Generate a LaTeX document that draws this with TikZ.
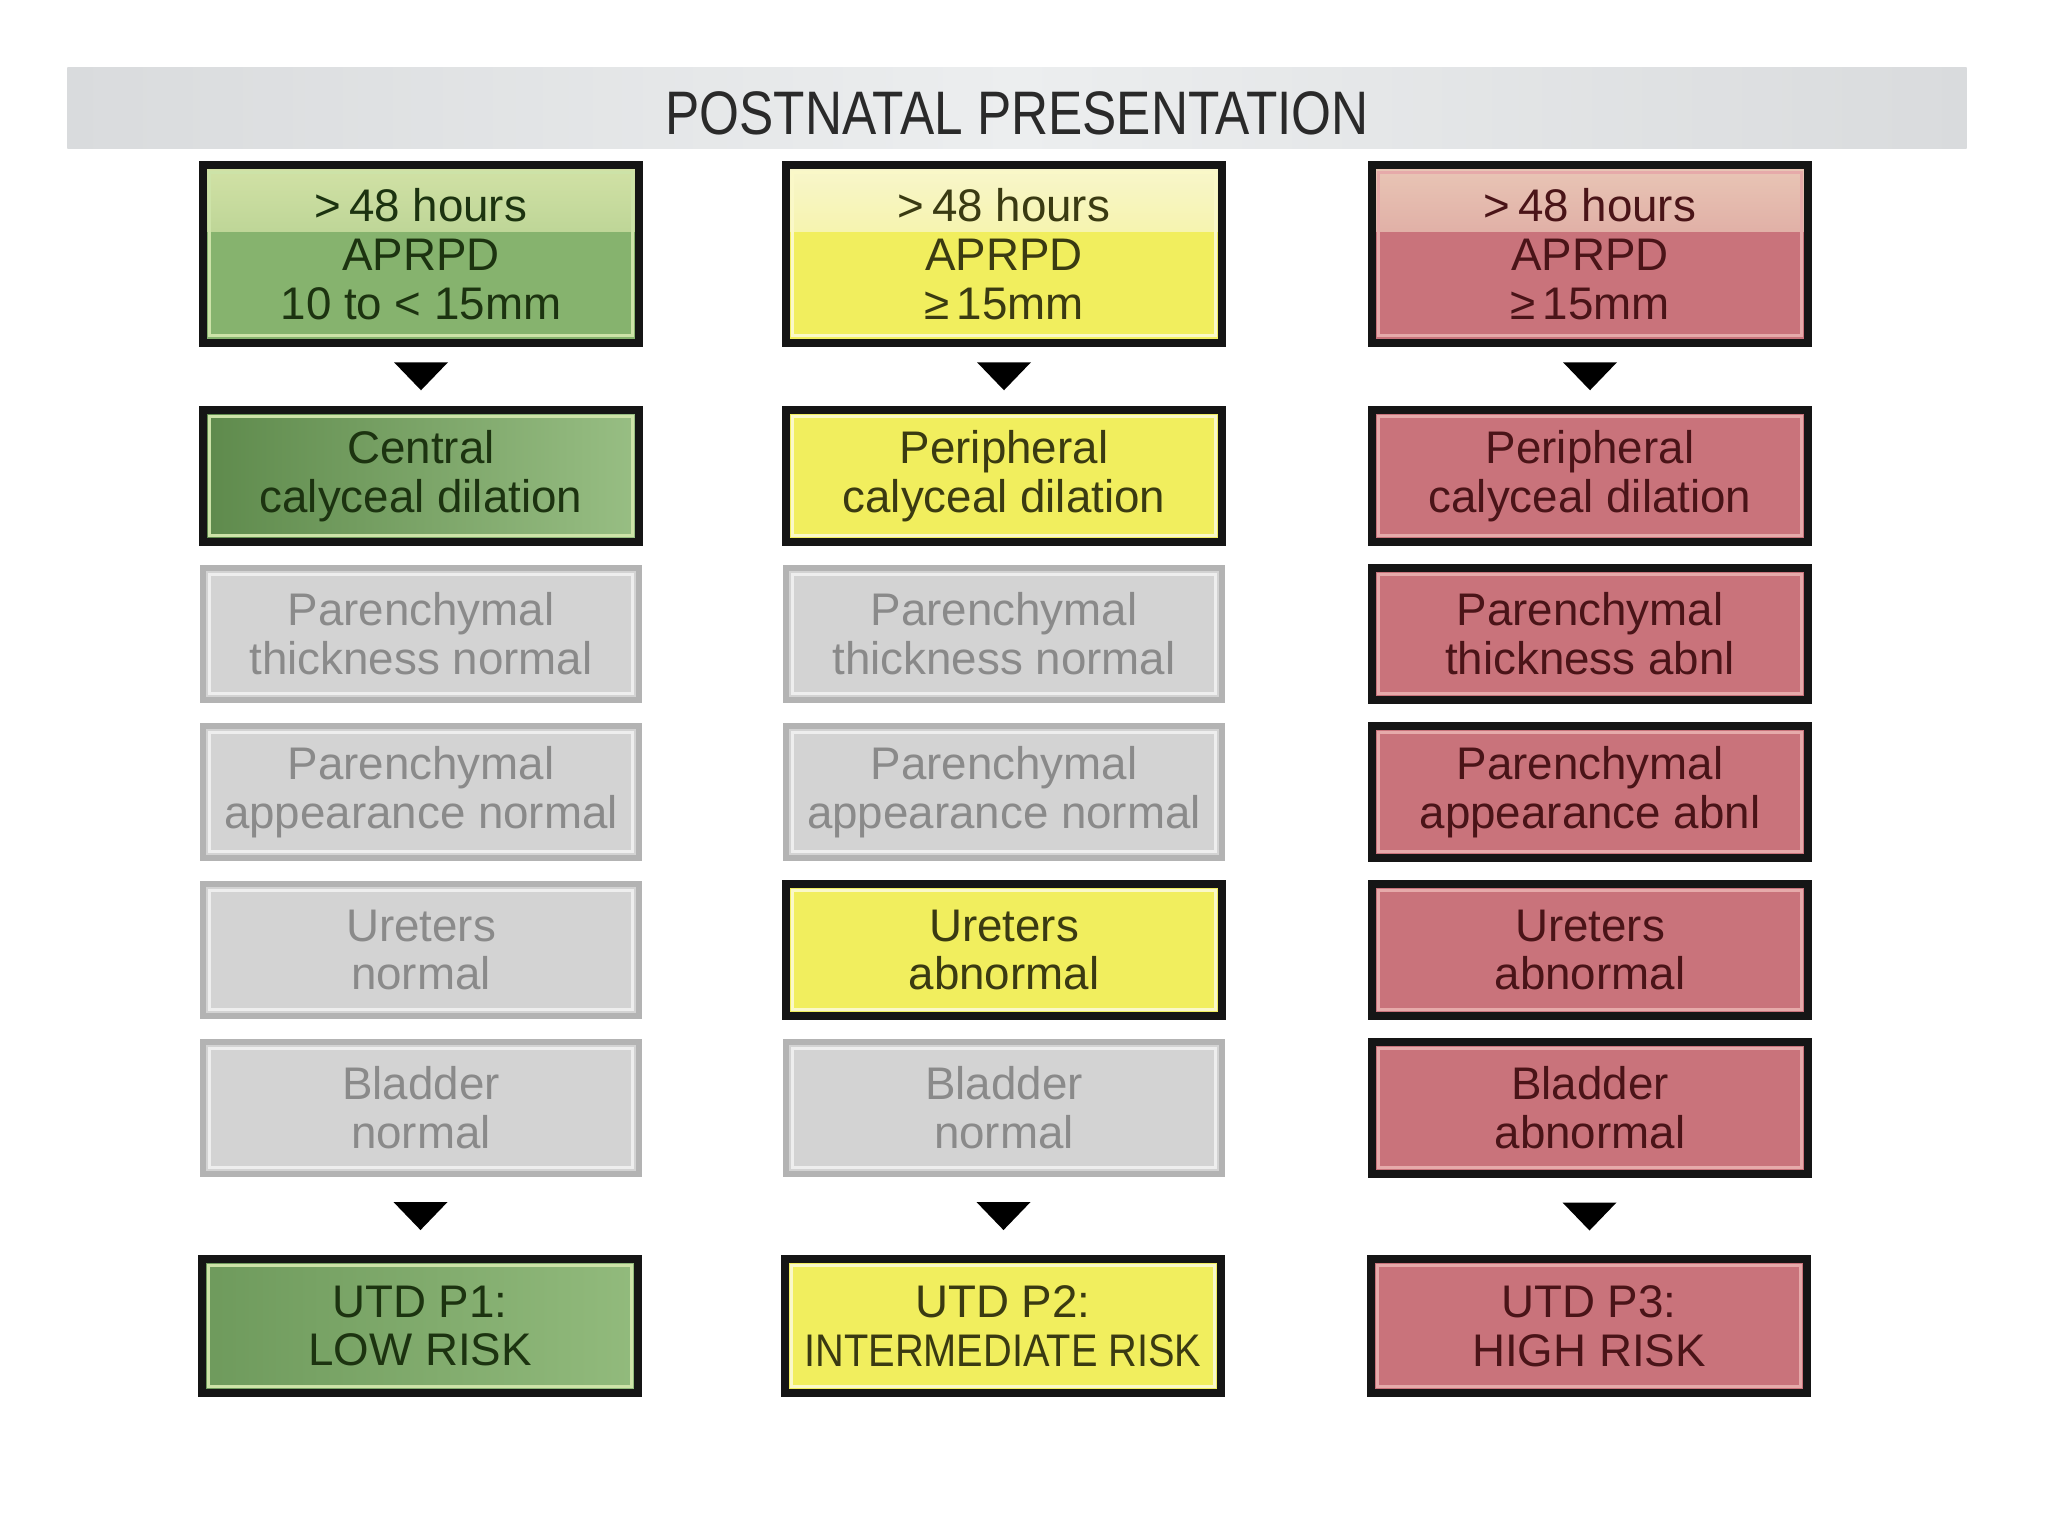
\documentclass[tikz,border=0pt]{standalone}
\usepackage{fontspec}
\setmainfont{Liberation Sans}
\usetikzlibrary{calc}
\definecolor{boxblack}{HTML}{151515}
\definecolor{gfill}{HTML}{86B36E}
\definecolor{gdark}{HTML}{5E8A4C}
\definecolor{gmid}{HTML}{6E9A5C}
\definecolor{glight}{HTML}{CDE3A8}
\definecolor{gband}{HTML}{D2E2A6}
\definecolor{gtext}{HTML}{1C3310}
\definecolor{yfill}{HTML}{F1EE5E}
\definecolor{ylight}{HTML}{FAF8C8}
\definecolor{yband}{HTML}{F8F6CC}
\definecolor{ytext}{HTML}{3A3A12}
\definecolor{rfill}{HTML}{C9737B}
\definecolor{rlight}{HTML}{E6AAAA}
\definecolor{rband}{HTML}{E9C6B6}
\definecolor{rtext}{HTML}{4A1418}
\definecolor{kfill}{HTML}{D3D3D3}
\definecolor{kborder}{HTML}{B3B3B3}
\definecolor{klight}{HTML}{EEEEEE}
\definecolor{ktext}{HTML}{8A8A8A}
\definecolor{hdrside}{HTML}{D9DBDD}
\definecolor{hdrmid}{HTML}{ECEEEF}
\definecolor{titletext}{HTML}{2A2A2A}
\tikzset{
  base/.style={rectangle, minimum width=4.36cm, minimum height=1.32cm,
    align=center, inner sep=0pt, font=\fontsize{13}{13.9}\selectfont},
  innerline/.style={path picture={
    \draw[#1, line width=0.9pt]
      ([shift={(1.9pt,1.9pt)}]path picture bounding box.south west) rectangle
      ([shift={(-1.9pt,-1.9pt)}]path picture bounding box.north east);}},
  bandline/.style n args={3}{path picture={
    \shade[top color=#1, bottom color=#2]
      (path picture bounding box.north west) rectangle
      ([yshift=-0.66cm]path picture bounding box.north east);
    \draw[#3, line width=0.9pt]
      ([shift={(1.9pt,1.9pt)}]path picture bounding box.south west) rectangle
      ([shift={(-1.9pt,-1.9pt)}]path picture bounding box.north east);}},
  greenbox/.style={base, draw=boxblack, line width=2.3pt, fill=gfill, text=gtext, innerline=glight},
  greenshade/.style={base, draw=boxblack, line width=2.3pt, left color=gdark, right color=gfill!85!white, text=gtext, innerline=glight},
  greensoft/.style={base, draw=boxblack, line width=2.3pt, left color=gmid, right color=gfill!90!white, text=gtext, innerline=glight},
  yellowbox/.style={base, draw=boxblack, line width=2.3pt, fill=yfill, text=ytext, innerline=ylight},
  redbox/.style={base, draw=boxblack, line width=2.3pt, fill=rfill, text=rtext, innerline=rlight},
  graybox/.style={base, draw=kborder, line width=1.8pt, fill=kfill, text=ktext, innerline=klight},
  topbox/.style={minimum height=1.77cm},
  lastbox/.style={minimum height=1.34cm},
  tri/.style={fill=black}
}
\newcommand\downtri[2]{\fill[tri] ($(#1.south)!0.5!(#2.north)$) ++(-27,-14) -- ++(54,0) -- ++(-27,28) -- cycle;}
\begin{document}
\begin{tikzpicture}[x=0.01cm,y=-0.01cm]
\useasboundingbox (0,0) rectangle (2048,1536);
\fill[white] (0,0) rectangle (2048,1536);
% header
\node[rectangle, minimum width=18.98cm, minimum height=0.80cm, inner sep=0pt,
      left color=hdrside, right color=hdrside, middle color=hdrmid] (header) at (1017,108) {};
\node[text=titletext, inner sep=0pt] (title) at (1017,113)
  {\resizebox{200pt}{12.2pt}{POSTNATAL PRESENTATION}};
% column 1
\node[greenbox, topbox, bandline={gband}{gfill!70!gband}{glight}] (a1) at (421,254) {>\,48 hours\\APRPD\\10 to < 15mm};
\node[greenshade] (a2) at (421,476) {Central\\calyceal dilation};
\node[graybox] (a3) at (421,634) {Parenchymal\\thickness normal};
\node[graybox] (a4) at (421,792) {Parenchymal\\appearance normal};
\node[graybox] (a5) at (421,950) {Ureters\\normal};
\node[graybox] (a6) at (421,1108) {Bladder\\normal};
\node[greensoft, lastbox] (a7) at (420,1326) {UTD P1:\\LOW RISK};
% column 2
\node[yellowbox, topbox, bandline={yband}{yfill!70!yband}{ylight}] (b1) at (1004,254) {>\,48 hours\\APRPD\\≥\,15mm};
\node[yellowbox] (b2) at (1004,476) {Peripheral\\calyceal dilation};
\node[graybox] (b3) at (1004,634) {Parenchymal\\thickness normal};
\node[graybox] (b4) at (1004,792) {Parenchymal\\appearance normal};
\node[yellowbox] (b5) at (1004,950) {Ureters\\abnormal};
\node[graybox] (b6) at (1004,1108) {Bladder\\normal};
\node[yellowbox, lastbox] (b7) at (1003,1326) {UTD P2:\\\scalebox{0.87}[1]{INTERMEDIATE RISK}};
% column 3
\node[redbox, topbox, bandline={rband}{rfill!70!rband}{rlight}] (c1) at (1590,254) {>\,48 hours\\APRPD\\≥\,15mm};
\node[redbox] (c2) at (1590,476) {Peripheral\\calyceal dilation};
\node[redbox] (c3) at (1590,634) {Parenchymal\\thickness abnl};
\node[redbox] (c4) at (1590,792) {Parenchymal\\appearance abnl};
\node[redbox] (c5) at (1590,950) {Ureters\\abnormal};
\node[redbox] (c6) at (1590,1108) {Bladder\\abnormal};
\node[redbox, lastbox] (c7) at (1589,1326) {UTD P3:\\HIGH RISK};
% arrows
\downtri{a1}{a2}
\downtri{b1}{b2}
\downtri{c1}{c2}
\downtri{a6}{a7}
\downtri{b6}{b7}
\downtri{c6}{c7}
\end{tikzpicture}
\end{document}
